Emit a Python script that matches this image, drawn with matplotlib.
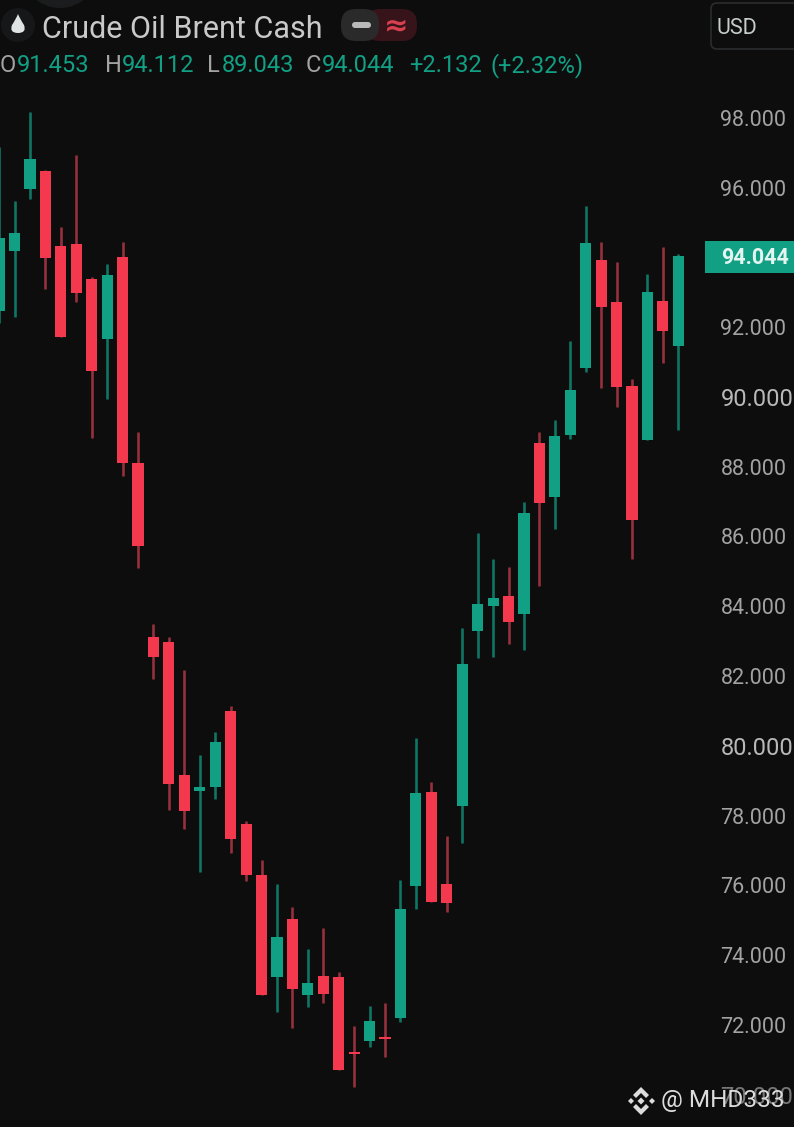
import numpy as np
import matplotlib
matplotlib.use("Agg")
import matplotlib.pyplot as plt
from matplotlib.patches import Circle, FancyBboxPatch, PathPatch, Polygon, Rectangle
from matplotlib.path import Path
from matplotlib.transforms import Affine2D

# daily candles
opens = [92.47, 94.19, 95.96, 96.48, 94.33, 94.39, 93.38, 91.66, 94.01, 88.11,
         83.12, 82.98, 79.16, 78.71, 78.82, 81.00, 77.76, 76.30, 73.37, 75.04,
         72.86, 73.40, 73.37, 71.19, 71.54, 71.62, 72.20, 75.98, 78.68, 76.04,
         78.28, 83.29, 84.01, 84.30, 83.78, 88.68, 87.13, 88.91, 90.83, 93.93,
         92.72, 90.32, 88.77, 92.75, 91.453]
highs = [97.17, 95.62, 98.17, 96.52, 94.87, 96.94, 93.44, 93.81, 94.44, 89.00,
         83.49, 83.12, 82.17, 79.74, 80.40, 81.14, 77.85, 76.73, 76.04, 75.38,
         74.18, 74.78, 73.52, 71.97, 72.54, 72.63, 76.15, 80.22, 78.96, 77.41,
         83.38, 86.10, 85.36, 85.13, 86.99, 89.00, 89.34, 91.61, 95.48, 94.44,
         93.87, 90.52, 93.53, 94.30, 94.112]
lows = [92.12, 92.29, 95.68, 93.10, 91.72, 92.72, 88.83, 89.94, 87.74, 85.10,
        81.92, 78.16, 77.62, 76.38, 78.48, 76.93, 76.12, 72.86, 72.37, 71.91,
        72.51, 72.63, 70.71, 70.22, 71.37, 71.08, 72.08, 75.32, 75.52, 75.24,
        77.21, 82.52, 82.55, 82.92, 82.75, 84.58, 86.22, 88.80, 90.72, 90.26,
        89.71, 85.36, 88.77, 90.98, 89.043]
closes = [94.56, 94.70, 96.82, 93.99, 91.72, 92.98, 90.75, 93.50, 88.11, 85.73,
          82.55, 78.91, 78.13, 78.82, 80.11, 77.33, 76.30, 72.86, 74.52, 73.03,
          73.20, 72.89, 70.71, 71.16, 72.11, 71.59, 75.32, 78.65, 75.52, 75.49,
          82.35, 84.07, 84.24, 83.55, 86.68, 86.96, 88.88, 90.20, 94.42, 92.58,
          90.29, 86.47, 93.01, 91.89, 94.044]

price_ticks = [70, 72, 74, 76, 78, 80, 82, 84, 86, 88, 90, 92, 96, 98]
wide_ticks = [70, 80, 90]
last_price = 94.044

BG = "#0d0d0e"
UP = "#12a085"
DOWN = "#f4384e"
UP_WICK = "#0f7564"
DOWN_WICK = "#96303c"
GREY = "#a3a3a3"
W, H = 794, 1127

plt.rcParams["font.family"] = ["Roboto", "DejaVu Sans"]


def main():
    fig = plt.figure(figsize=(W / 100, H / 100), dpi=100, facecolor=BG)
    ax = fig.add_axes([0, 0, 1, 1], facecolor=BG)

    # everything outside the plot is placed in picture pixels, origin top left
    pix = Affine2D().scale(1 / W, -1 / H).translate(0, 1) + fig.transFigure

    x = np.arange(len(opens))
    o, h, l, c = map(np.array, (opens, highs, lows, closes))
    up = c >= o

    ax.vlines(x[up], l[up], h[up], color=UP_WICK, linewidth=1.9, zorder=2)
    ax.vlines(x[~up], l[~up], h[~up], color=DOWN_WICK, linewidth=1.9, zorder=2)
    ax.bar(x[up], np.maximum(c[up] - o[up], 0.1), bottom=o[up], width=0.72, color=UP, zorder=3)
    ax.bar(x[~up], np.maximum(o[~up] - c[~up], 0.07), bottom=c[~up], width=0.72, color=DOWN, zorder=3)

    # 15.44 px per candle, 34.88 px per price unit
    ax.set_xlim(0.06, 51.49)
    ax.set_ylim(69.07, 101.38)
    for side in ax.spines.values():
        side.set_visible(False)
    ax.set_xticks([])
    ax.yaxis.tick_right()
    ax.set_yticks(price_ticks)
    ax.set_yticklabels([f"{p:.3f}" for p in price_ticks])
    ax.tick_params(axis="y", length=0, pad=-53, labelsize=15.5, labelcolor=GREY)
    for tick, p in zip(ax.get_yticklabels(), price_ticks):
        tick.set_ha("left")
        if p in wide_ticks:
            tick.set_fontsize(17)
            tick.set_color("#777777" if p == 70 else "#b8b8b8")

    # last price tag
    fig.add_artist(Rectangle((705, 241), 89, 32, transform=pix, facecolor=UP, edgecolor="none"))
    fig.text(721 / W, 1 - 258 / H, f"{last_price:.3f}", color="#e4f4f0", fontsize=15.5,
             fontweight="bold", va="center", ha="left")

    # top left dark blobs and header
    fig.add_artist(Circle((60, -30), 38, transform=pix, facecolor="#1b1c1d", edgecolor="none"))
    fig.add_artist(Circle((18, 25), 17, transform=pix, facecolor="#161718", edgecolor="none"))
    drop = Path([(18, 14), (20, 19), (24, 25), (27, 33), (18, 33), (9, 33), (12, 25), (16, 19), (18, 14)],
                [Path.MOVETO] + [Path.CURVE3] * 8)
    fig.add_artist(PathPatch(drop, transform=pix, facecolor="#dfe3e3", edgecolor="none"))
    fig.text(42 / W, 1 - 29 / H, "Crude Oil Brent Cash", color="#c9c9c9", fontsize=22,
             va="center", ha="left")

    # status pill
    fig.add_artist(FancyBboxPatch((365, 9), 52, 32, boxstyle="round,pad=0,rounding_size=15",
                                  transform=pix, facecolor="#37141a", edgecolor="none"))
    fig.add_artist(FancyBboxPatch((341, 9), 38, 32, boxstyle="round,pad=0,rounding_size=15",
                                  transform=pix, facecolor="#2a2a2b", edgecolor="none"))
    fig.add_artist(FancyBboxPatch((352, 22), 19, 6, boxstyle="round,pad=0,rounding_size=3",
                                  transform=pix, facecolor="#b9b9b9", edgecolor="none"))
    fig.text(396 / W, 1 - 26 / H, "\u2248", color="#d9404f", fontsize=21, fontweight="bold",
             va="center", ha="center", family=["DejaVu Sans"])

    # OHLC line
    stats = [(0, "O", GREY), (17, "91.453", UP), (105, "H", GREY), (122, "94.112", UP),
             (207, "L", GREY), (222, "89.043", UP), (306, "C", GREY), (322, "94.044", UP),
             (409, "+2.132", UP), (490, "(+2.32%)", UP)]
    for px, txt, col in stats:
        fig.text(px / W, 1 - 66 / H, txt, color=col, fontsize=17, va="center", ha="left")

    # currency box
    fig.add_artist(FancyBboxPatch((711, 3), 110, 46, boxstyle="round,pad=0,rounding_size=6",
                                  transform=pix, facecolor=BG, edgecolor="#2b2c2d", linewidth=1.2))
    fig.text(717 / W, 1 - 28 / H, "USD", color="#c6cdcb", fontsize=15.5, va="center", ha="left")

    # watermark logo and name
    logo = "#dcdcdc"
    fig.add_artist(Polygon([(641, 1087), (649, 1095), (646, 1098), (641, 1093), (636, 1098), (633, 1095)],
                           transform=pix, facecolor=logo, edgecolor="none", zorder=5))
    fig.add_artist(Polygon([(641, 1115), (649, 1107), (646, 1104), (641, 1109), (636, 1104), (633, 1107)],
                           transform=pix, facecolor=logo, edgecolor="none", zorder=5))
    for cx, r in [(631, 3), (641, 3.5), (652, 3)]:
        fig.add_artist(Polygon([(cx, 1101 - r), (cx + r, 1101), (cx, 1101 + r), (cx - r, 1101)], transform=pix,
                               facecolor=logo, edgecolor="none", zorder=5))
    fig.text(661 / W, 1 - 1101 / H, "@ MHD333", color=logo, fontsize=17.6, va="center", ha="left", zorder=6)

    fig.savefig("out.png", dpi=100, facecolor=BG)


if __name__ == "__main__":
    main()
